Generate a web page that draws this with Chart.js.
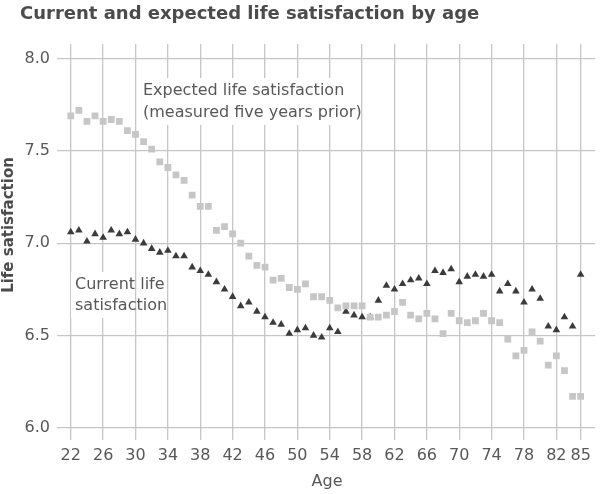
<!DOCTYPE html>
<html>
<head>
<meta charset="utf-8">
<title>Current and expected life satisfaction by age</title>
<script src="https://cdn.jsdelivr.net/npm/chart.js@4.4.0/dist/chart.umd.min.js"></script>
<style>
  html, body { margin: 0; padding: 0; background: #fff; }
  #wrap { width: 600px; height: 494px; }
</style>
</head>
<body>
<div id="wrap"><canvas id="chart" width="600" height="494"></canvas></div>
<script>
const ages = [22, 23, 24, 25, 26, 27, 28, 29, 30, 31, 32, 33, 34, 35, 36, 37, 38, 39, 40, 41,
  42, 43, 44, 45, 46, 47, 48, 49, 50, 51, 52, 53, 54, 55, 56, 57, 58, 59, 60, 61,
  62, 63, 64, 65, 66, 67, 68, 69, 70, 71, 72, 73, 74, 75, 76, 77, 78, 79, 80, 81,
  82, 83, 84, 85];

// expected life satisfaction, measured five years prior (grey squares)
const expected = [7.69, 7.72, 7.66, 7.69, 7.66, 7.67, 7.66, 7.61, 7.59, 7.55, 7.51, 7.44, 7.41, 7.37, 7.34, 7.26, 7.20, 7.20, 7.07, 7.09,
  7.05, 7.00, 6.93, 6.88, 6.87, 6.80, 6.81, 6.76, 6.75, 6.78, 6.71, 6.71, 6.69, 6.65, 6.66, 6.66, 6.66, 6.60, 6.60, 6.61,
  6.63, 6.68, 6.61, 6.59, 6.62, 6.59, 6.51, 6.62, 6.58, 6.57, 6.58, 6.62, 6.58, 6.57, 6.48, 6.39, 6.42, 6.52, 6.47, 6.34,
  6.39, 6.31, 6.17, 6.17];

// current life satisfaction (dark triangles)
const current = [7.06, 7.07, 7.01, 7.05, 7.03, 7.07, 7.05, 7.06, 7.02, 7.00, 6.97, 6.95, 6.96, 6.93, 6.93, 6.87, 6.85, 6.83, 6.79, 6.75,
  6.71, 6.66, 6.68, 6.63, 6.60, 6.57, 6.56, 6.51, 6.53, 6.54, 6.50, 6.49, 6.54, 6.52, 6.63, 6.61, 6.60, 6.60, 6.69, 6.77,
  6.75, 6.78, 6.80, 6.81, 6.78, 6.85, 6.84, 6.86, 6.79, 6.82, 6.83, 6.82, 6.83, 6.74, 6.78, 6.74, 6.68, 6.75, 6.70, 6.55,
  6.53, 6.60, 6.55, 6.83];

const xTicks = [22, 26, 30, 34, 38, 42, 46, 50, 54, 58, 62, 66, 70, 74, 78, 82, 85];
const yTicks = [6.0, 6.5, 7.0, 7.5, 8.0];

const gridColor = '#c6c6c6';
const textColor = '#585858';
const font = 'DejaVu Sans';

function toPoints(values) {
  return ages.map((a, i) => ({x: a, y: values[i]}));
}

// titles and in-chart labels
const textPlugin = {
  id: 'texts',
  beforeDatasetsDraw(chart) {
    const ctx = chart.ctx;
    ctx.save();
    ctx.fillStyle = '#fff';
    ctx.fillRect(139, 78, 208, 47);
    ctx.fillRect(71, 272, 63, 46);

    ctx.fillStyle = textColor;
    ctx.font = '16px "' + font + '"';
    ctx.textBaseline = 'middle';
    ctx.textAlign = 'left';
    ctx.fillText('Expected life satisfaction', 143, 91);
    ctx.fillText('(measured five years prior)', 143, 113);
    ctx.fillText('Current life', 75, 285);
    ctx.fillText('satisfaction', 75, 306);
    ctx.restore();
  },
  afterDraw(chart) {
    const ctx = chart.ctx;
    ctx.save();
    ctx.fillStyle = '#4b4b4b';
    ctx.font = 'bold 18px "' + font + '"';
    ctx.textBaseline = 'alphabetic';
    ctx.textAlign = 'left';
    ctx.fillText('Current and expected life satisfaction by age', 20, 19);

    ctx.fillStyle = textColor;
    ctx.font = '16px "' + font + '"';
    ctx.textAlign = 'center';
    ctx.textBaseline = 'middle';
    ctx.fillText('Age', 327, 482);

    ctx.fillStyle = '#4b4b4b';
    ctx.font = 'bold 15px "' + font + '"';
    ctx.translate(9, 225);
    ctx.rotate(-Math.PI / 2);
    ctx.fillText('Life satisfaction', 0, 0);
    ctx.restore();
  }
};

new Chart(document.getElementById('chart'), {
  type: 'scatter',
  data: {
    datasets: [
      {
        label: 'Expected life satisfaction (measured five years prior)',
        data: toPoints(expected),
        pointStyle: 'rect',
        pointRadius: 4.8,
        backgroundColor: '#c6c6c6',
        borderColor: '#c6c6c6',
        borderWidth: 0
      },
      {
        label: 'Current life satisfaction',
        data: toPoints(current),
        pointStyle: 'triangle',
        pointRadius: 4.4,
        backgroundColor: '#3b3b3b',
        borderColor: '#3b3b3b',
        borderWidth: 0
      }
    ]
  },
  options: {
    responsive: false,
    animation: false,
    layout: {padding: {top: 44, right: 3, left: 0, bottom: 0}},
    plugins: {
      legend: {display: false},
      title: {display: false},
      tooltip: {enabled: false}
    },
    scales: {
      x: {
        type: 'linear',
        min: 20.3,
        max: 86.8,
        afterBuildTicks: axis => { axis.ticks = xTicks.map(v => ({value: v})); },
        afterFit: scale => { scale.height = 54; },
        grid: {color: gridColor, lineWidth: 1.3, drawTicks: false},
        border: {display: false},
        ticks: {
          autoSkip: false,
          maxRotation: 0,
          padding: 6,
          color: textColor,
          font: {family: font, size: 16}
        }
      },
      y: {
        min: 5.934,
        max: 8.079,
        afterBuildTicks: axis => { axis.ticks = yTicks.map(v => ({value: v})); },
        afterFit: scale => { scale.width = 57; },
        grid: {color: gridColor, lineWidth: 1.3, drawTicks: false},
        border: {display: false},
        ticks: {
          padding: 7,
          color: textColor,
          font: {family: font, size: 16},
          callback: v => v.toFixed(1)
        }
      }
    }
  },
  plugins: [textPlugin]
});
</script>
</body>
</html>
